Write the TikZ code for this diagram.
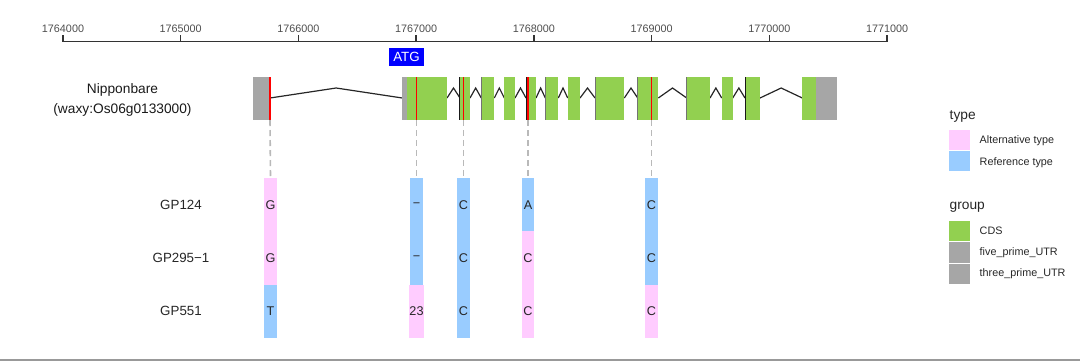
\documentclass[tikz,border=0pt]{standalone}
\usepackage{fontspec}
\setmainfont{Liberation Sans}
\usetikzlibrary{positioning}
\definecolor{cdsc}{RGB}{146,208,80}
\definecolor{utrc}{RGB}{166,166,166}
\definecolor{altc}{RGB}{255,204,255}
\definecolor{refc}{RGB}{153,204,255}
\definecolor{atgc}{RGB}{0,0,255}
\definecolor{tickc}{RGB}{77,77,77}
\definecolor{guidec}{RGB}{185,185,185}
\definecolor{snpc}{RGB}{255,0,0}

\begin{document}
\begin{tikzpicture}[x=0.75pt,y=-0.75pt,font=\fontsize{10}{12}\selectfont,
  intron/.style={draw=black!85,line width=0.9pt},
  snpline/.style={snpc,line width=1.2pt},
  guide/.style={guidec,line width=1.2pt,dash pattern=on 4.5pt off 3pt},
  cell/.style={minimum width=9.4pt,minimum height=40pt,inner sep=0pt,text=black!85,font=\fontsize{9.5}{11}\selectfont},
  rowlab/.style={text=black!85,font=\fontsize{10}{12}\selectfont},
  legbox/.style={minimum width=16pt,minimum height=16pt,inner sep=0pt,draw=white,line width=0.6pt},
  legtxt/.style={anchor=west,text=black!85,font=\fontsize{8.1}{10}\selectfont},
  legtitle/.style={anchor=west,text=black!85,font=\fontsize{10.3}{12}\selectfont}]
\useasboundingbox (0,0) rectangle (1080,361);
% genomic coordinate axis
\draw[black!80,line width=1.1pt] (63,41.7) -- (887.1,41.7);
\foreach \i in {0,...,7}{
  \pgfmathsetmacro{\tx}{63+\i*117.73}
  \draw[black!80,line width=1.1pt] (\tx,35) -- (\tx,41.7);
  \node[text=tickc,font=\fontsize{8.1}{10}\selectfont] (t\i) at (\tx,28.3) {\number\numexpr1764000+\i*1000\relax};
}
\node[fill=atgc,text=white,minimum width=26.25pt,minimum height=13.5pt,inner sep=0pt] (atg) at (406.5,56.5) {ATG};
% gene model
\node[align=center,text=black!90,font=\fontsize{10.3}{15}\selectfont] (ref) at (122.5,99.8) {Nipponbare\\(waxy:Os06g0133000)};
\foreach \a/\b in {270/402.3,447/460,470/481.3,494.3/504.3,515/526,536/545.3,558.3/567.7,580/595,624.3/637.7,658.3/686.7,710/721.7,732.7/745,760/802.3}
  \draw[intron] (\a,98) -- ({(\a+\b)/2},88) -- (\b,98);
\fill[utrc] (253.3,77) rectangle (270,120);
\fill[utrc] (402.3,77) rectangle (406.7,120);
\fill[utrc] (816,77) rectangle (836.7,120);
\foreach \a/\b in {406.7/447,460/470,481.3/494.3,504.3/515,526/536,545.3/558.3,567.7/580,595/624.3,637.7/658.3,686.7/710,721.7/732.7,745/760,802.3/816}
  \fill[cdsc] (\a,77) rectangle (\b,120);
\foreach \a in {481.3,545.3,595,637.7,686.7}
  \draw[black!55,line width=0.5pt] (\a,77) -- (\a,120);
\foreach \a in {459.6,526.2,745}
  \draw[black!90,line width=0.6pt] (\a,77) -- (\a,120);
% variant sites
\foreach \n/\x in {1/270,2/416.5,3/463.5,4/528,5/651.5}{
  \draw[snpline] (\x,77) -- (\x,120);
  \coordinate (v\n) at (\x,120);
}
% genotypes
\node[rowlab] (gp124) at (181,204.7) {GP124};
\node[rowlab] (gp295) at (181,258) {GP295−1};
\node[rowlab] (gp551) at (181,311.3) {GP551};
\node[cell,fill=altc] (c1a) at (270.5,204.7) {G};
\node[cell,fill=altc] (c1b) at (270.5,258) {G};
\node[cell,fill=refc] (c1c) at (270.5,311.3) {T};
\node[cell,fill=refc] (c2a) at (416.5,204.7) {−};
\node[cell,fill=refc] (c2b) at (416.5,258) {−};
\node[cell,fill=altc] (c2c) at (416.5,311.3) {23};
\node[cell,fill=refc] (c3a) at (463.5,204.7) {C};
\node[cell,fill=refc] (c3b) at (463.5,258) {C};
\node[cell,fill=refc] (c3c) at (463.5,311.3) {C};
\node[cell,fill=refc] (c4a) at (528,204.7) {A};
\node[cell,fill=altc] (c4b) at (528,258) {C};
\node[cell,fill=altc] (c4c) at (528,311.3) {C};
\node[cell,fill=refc] (c5a) at (651.5,204.7) {C};
\node[cell,fill=refc] (c5b) at (651.5,258) {C};
\node[cell,fill=altc] (c5c) at (651.5,311.3) {C};
\foreach \n/\c in {1/c1a,2/c2a,3/c3a,4/c4a,5/c5a}
  \draw[guide] (v\n) -- (\c.north);
% legend
\node[legtitle] (typet) at (945,116.7) {type};
\node[legbox,fill=altc] (alt) at (959.5,139.7) {};
\node[legbox,fill=refc] (refb) at (959.5,161) {};
\node[legtxt] at (975,140.7) {Alternative type};
\node[legtxt] at (975,162.3) {Reference type};
\node[legtitle] (groupt) at (945,207.3) {group};
\node[legbox,fill=cdsc] (cds) at (959.5,231) {};
\node[legbox,fill=utrc] (fiveu) at (959.5,252.3) {};
\node[legbox,fill=utrc] (threeu) at (959.5,273.6) {};
\node[legtxt] at (975,230.7) {CDS};
\node[legtxt] at (975,252.3) {five\_prime\_UTR};
\node[legtxt] at (975,274) {three\_prime\_UTR};
\draw[black!40,line width=1.5pt] (0,359.5) -- (1080,359.5);
\end{tikzpicture}
\end{document}
